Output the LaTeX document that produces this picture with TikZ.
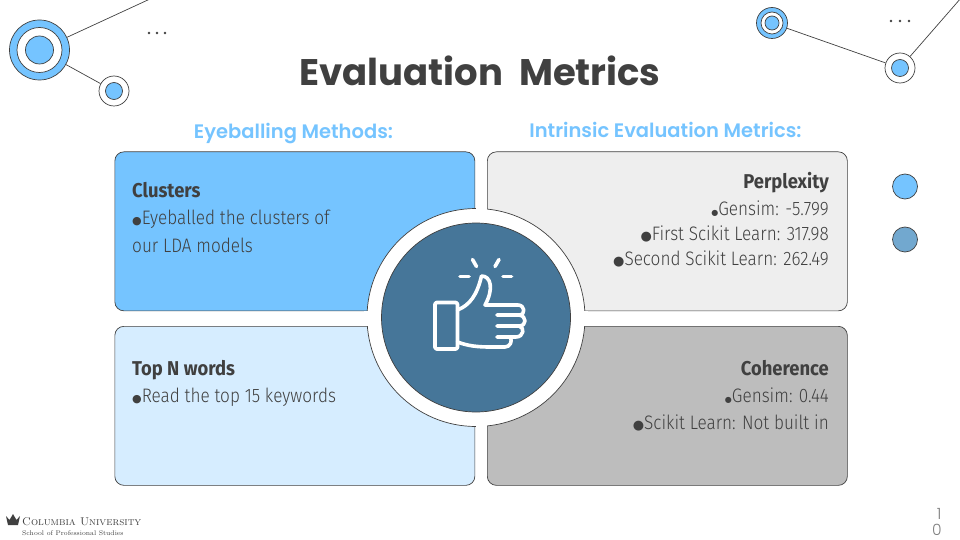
\documentclass[tikz,border=0pt]{standalone}
\usepackage{fontspec}
\newfontfamily\titlefont{Poppins Bold}
\newfontfamily\columnfont{Poppins SemiBold}
\newfontfamily\headfont[FakeStretch=0.92]{Fira Sans}
\newfontfamily\bodyfont[FakeStretch=0.88]{Fira Sans Light}
\newfontfamily\pagefont{Poppins Light}
\newfontfamily\symfont{DejaVu Sans}
\newcommand{\blt}[1]{{\symfont\fontsize{#1}{#1}\selectfont ●}}
\definecolor{skyfill}{HTML}{75C4FF}
\definecolor{palefill}{HTML}{D6EDFF}
\definecolor{greyfill}{HTML}{EEEEEE}
\definecolor{darkfill}{HTML}{BDBDBD}
\definecolor{hubfill}{HTML}{467699}
\definecolor{dotfill}{HTML}{72A8CF}
\definecolor{inkcol}{HTML}{404040}
\tikzset{
  quad/.style={draw=inkcol,rounded corners=9pt,minimum width=360pt,minimum height=159pt,inner sep=0pt,line width=.7pt},
  disc/.style={circle,draw=inkcol,inner sep=0pt,line width=.7pt},
  link/.style={draw=inkcol,line width=.7pt},
  head/.style={text=inkcol,font=\headfont\fontsize{20}{20}\selectfont\bfseries,inner sep=0pt},
  body/.style={text=inkcol,font=\bodyfont\fontsize{19.5}{19.5}\selectfont,inner sep=0pt},
  column/.style={text=skyfill,font=\columnfont\fontsize{19.5}{19.5}\selectfont,inner sep=0pt,anchor=base},
  thumb/.style={draw=white,line width=3.6pt,line cap=round,line join=round},
}
\begin{document}
\begin{tikzpicture}[x=1pt,y=-1pt]
  \useasboundingbox (0,0) rectangle (960,540);
  % corner decoration, left
  \node [disc,fill=skyfill,minimum size=60pt] (bigl) at (39.5,50) {};
  \node [disc,fill=white,minimum size=45pt] at (39.5,50) {};
  \node [disc,fill=skyfill,minimum size=28pt] at (39.5,50) {};
  \node [disc,fill=white,minimum size=30pt] (smalll) at (114,91) {};
  \node [disc,fill=skyfill,minimum size=17pt] at (114,91) {};
  \coordinate (endl) at (150,-1);
  \draw [link] (bigl) -- (endl);
  \draw [link] (bigl) -- (smalll);
  % corner decoration, right
  \node [disc,fill=skyfill,minimum size=31pt] (bigr) at (772,23) {};
  \node [disc,fill=white,minimum size=22pt] at (772,23) {};
  \node [disc,fill=skyfill,minimum size=14pt] at (772,23) {};
  \node [disc,fill=white,minimum size=30pt] (smallr) at (900,68) {};
  \node [disc,fill=skyfill,minimum size=17pt] at (900,68) {};
  \coordinate (endr) at (961,-2);
  \draw [link] (bigr) -- (smallr);
  \draw [link] (smallr) -- (endr);
  \foreach \x/\y in {149/33,157/33,165/33,891/21,900/21,909/21}
    \fill [inkcol] (\x,\y) circle (1.3pt);
  % title
  \node [text=inkcol,font=\titlefont\fontsize{37}{37}\selectfont,inner sep=0pt,anchor=base] (title) at (480,86) {Evaluation\hspace{16pt}Metrics};
  \node [column] (lefthead) at (293.5,139) {Eyeballing Methods:};
  \node [column] (righthead) at (665.5,137.5) {Intrinsic Evaluation Metrics:};
  % four boxes
  \node [quad,fill=skyfill,anchor=north west] (clusters) at (114.5,151.5) {};
  \node [quad,fill=greyfill,anchor=north west] (perplex) at (487,151.5) {};
  \node [quad,fill=palefill,anchor=north west] (topn) at (114.5,326) {};
  \node [quad,fill=darkfill,anchor=north west] (coher) at (487,326) {};
  % hub
  \node [disc,fill=white,minimum size=218pt] (ring) at (476,317.5) {};
  \foreach \a/\b/\c/\d in {475.8/205/486.6/212,475.8/423/486.6/430,364/310.5/370/325.5,582/310.5/588/325.5}
    \fill [white] (\a,\b) rectangle (\c,\d);
  \node [disc,fill=hubfill,minimum size=189pt] (hub) at (476,317.5) {};
  \draw [thumb,rounded corners=1.5pt] (435,302.5) rectangle (457.5,349);
  \draw [thumb] (457.5,310) .. controls (470,305) and (477,295) .. (481.5,276)
    .. controls (491,276) and (494,289) .. (485,305) -- (518,305)
    .. controls (525,305) and (526,315) .. (519,315) -- (497,315);
  \draw [thumb] (519,315) .. controls (527,316) and (527,326) .. (519,326) -- (497,326);
  \draw [thumb] (519,326) .. controls (525,327) and (524,337) .. (516,337) -- (497,337);
  \draw [thumb] (510,337) .. controls (513,341) and (510,347) .. (505,347) -- (490,347)
    .. controls (478,347) and (468,346) .. (457.5,342);
  \draw [thumb] (460,276.5) -- (469,276.5);
  \draw [thumb] (503,276.5) -- (511.5,276.5);
  \draw [thumb] (472.5,259.5) -- (476.5,266.5);
  \draw [thumb] (499,259.5) -- (495,266.5);
  % box texts
  \node [head,anchor=base west] (clustershead) at (132,197) {Clusters};
  \node [body,anchor=base west] (clustersa) at (132,224) {\blt{11}Eyeballed the clusters of};
  \node [body,anchor=base west] (clustersb) at (132,252) {our LDA models};
  \node [head,anchor=base west] (topnhead) at (132,375) {Top N words};
  \node [body,anchor=base west] (topna) at (132,402) {\blt{11}Read the top 15 keywords};
  \node [head,anchor=base east] (perplexhead) at (829,189) {Perplexity};
  \node [body,anchor=base east] (perplexa) at (829,215) {\blt{8}Gensim: -5.799};
  \node [body,anchor=base east] (perplexb) at (829,240.5) {\blt{13}First Scikit Learn: 317.98};
  \node [body,anchor=base east] (perplexc) at (829,265.5) {\blt{13}Second Scikit Learn: 262.49};
  \node [head,anchor=base east] (coherhead) at (829,375) {Coherence};
  \node [body,anchor=base east] (cohera) at (829,402) {\blt{8}Gensim: 0.44};
  \node [body,anchor=base east] (coherb) at (829,429.5) {\blt{13}Scikit Learn: Not built in};
  % side dots
  \node [disc,fill=skyfill,minimum size=25pt] (dota) at (905,186.5) {};
  \node [disc,fill=dotfill,minimum size=25pt] (dotb) at (905,239.5) {};
  % footer
  \fill [inkcol] (6,516) -- (8,525) -- (18,525) -- (20,516) -- (16.5,520) -- (13,514) -- (9.5,520) -- cycle;
  \node [text=inkcol,font=\fontsize{11.2}{11.2}\selectfont,inner sep=0pt,anchor=base west] (logoa) at (22,525) {\textsc{Columbia University}};
  \node [text=inkcol,font=\fontsize{6.8}{6.8}\selectfont,inner sep=0pt,anchor=base west] (logob) at (22,535) {School of Professional Studies};
  \node [text=gray,font=\pagefont\fontsize{15.5}{15.5}\selectfont,inner sep=0pt,anchor=base] (pagea) at (939,519.5) {1};
  \node [text=gray,font=\pagefont\fontsize{15.5}{15.5}\selectfont,inner sep=0pt,anchor=base] (pageb) at (937,535) {0};
\end{tikzpicture}
\end{document}
